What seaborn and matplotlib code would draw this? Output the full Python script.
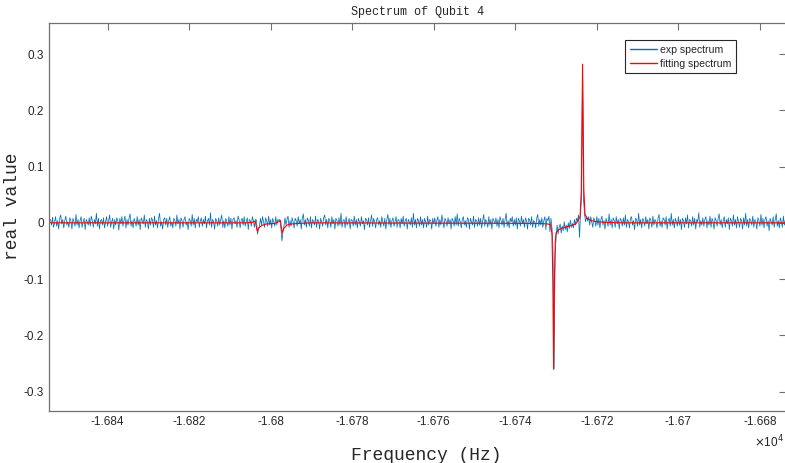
import numpy as np
import pandas as pd
import seaborn as sns
import matplotlib
matplotlib.use("Agg")
import matplotlib.pyplot as plt

# ==========================================
# Data
# ==========================================
# exp spectrum: sampled every 0.25 Hz starting at -16854 Hz
exp_start = -16854.0
exp_step = 0.25
exp_values = [
    0.006, -0.004, 0.010, -0.008, 0.002, 0.011, -0.006, 0.004, -0.011, 0.008, 0.014, -0.002, 0.006, -0.009, 0.004, 0.012, -0.004, 0.002, -0.008, 0.009,
    0.004, -0.011, 0.008, 0.002, -0.006, 0.015, -0.004, 0.006, -0.009, 0.004, 0.011, -0.008, 0.002, 0.008, -0.012, 0.006, 0.002, -0.004, 0.009, -0.006,
    0.012, 0.004, -0.008, 0.006, -0.002, 0.017, -0.006, 0.008, -0.011, 0.004, 0.006, -0.004, 0.009, -0.009, 0.002, 0.011, -0.006, 0.004, 0.014, -0.008,
    0.002, 0.008, -0.011, 0.006, -0.004, 0.009, 0.004, -0.013, 0.008, -0.002, 0.011, -0.006, 0.004, 0.012, -0.009, 0.006, -0.004, 0.008, 0.016, -0.006,
    0.004, -0.009, 0.008, 0.002, -0.006, 0.011, -0.004, 0.006, -0.012, 0.009, 0.004, -0.002, 0.014, -0.008, 0.006, 0.002, -0.011, 0.008, -0.004, 0.009,
    0.006, -0.008, 0.012, -0.004, 0.004, -0.009, 0.008, 0.017, -0.006, 0.002, -0.011, 0.006, 0.009, -0.004, 0.008, -0.008, 0.004, 0.011, -0.006, 0.002,
    -0.009, 0.008, 0.004, -0.006, 0.014, -0.002, 0.006, -0.011, 0.009, 0.004, -0.008, 0.006, 0.011, -0.004, 0.002, -0.012, 0.008, 0.004, -0.006, 0.015,
    -0.004, 0.008, -0.009, 0.006, 0.002, 0.011, -0.008, 0.004, 0.009, -0.006, 0.006, -0.002, 0.012, -0.009, 0.004, 0.008, -0.004, 0.018, -0.008, 0.006,
    0.002, -0.011, 0.008, 0.004, -0.006, 0.009, -0.004, 0.006, 0.014, -0.008, 0.004, -0.009, 0.008, 0.002, -0.006, 0.011, -0.004, 0.008, -0.011, 0.006,
    0.009, -0.002, 0.004, -0.008, 0.012, 0.006, -0.009, 0.004, 0.008, -0.004, 0.011, -0.006, 0.002, 0.009, -0.012, 0.006, 0.004, -0.006, 0.011, 0.004,
    -0.008, 0.006, 0.005, -0.020, -0.012, -0.005, 0.008, -0.004, 0.011, 0.002, -0.008, 0.009, 0.004, -0.006, 0.012, -0.004, 0.006, -0.009, 0.008, 0.002,
    -0.006, 0.011, -0.004, 0.006, 0.004, 0.006, -0.008, -0.032, -0.016, -0.006, 0.009, -0.004, 0.006, 0.012, -0.008, 0.004, -0.006, 0.009, 0.002, -0.009,
    0.008, 0.004, -0.006, 0.011, -0.002, 0.006, -0.011, 0.008, 0.016, -0.004, 0.006, -0.008, 0.009, 0.004, -0.006, 0.011, -0.009, 0.006, 0.002, -0.004,
    0.012, -0.008, 0.006, 0.004, -0.011, 0.008, 0.002, -0.006, 0.009, 0.014, -0.004, 0.006, -0.009, 0.008, 0.004, -0.008, 0.011, -0.002, 0.006, -0.011,
    0.008, 0.004, -0.006, 0.009, -0.004, 0.017, -0.008, 0.004, 0.006, -0.009, 0.011, -0.004, 0.002, 0.008, -0.011, 0.006, 0.004, -0.006, 0.012, -0.004,
    0.006, -0.009, 0.008, 0.002, -0.006, 0.011, -0.002, 0.004, -0.012, 0.008, 0.006, -0.004, 0.009, -0.008, 0.004, 0.014, -0.006, 0.008, 0.002, -0.009,
    0.006, 0.009, -0.004, 0.004, -0.008, 0.011, 0.002, -0.006, 0.008, -0.011, 0.006, 0.015, -0.004, 0.008, -0.008, 0.004, 0.009, -0.006, 0.002, 0.011,
    -0.008, 0.006, 0.004, -0.009, 0.008, -0.002, 0.012, -0.006, 0.004, 0.008, -0.011, 0.006, 0.002, -0.004, 0.009, -0.008, 0.017, -0.004, 0.006, -0.009,
    0.008, 0.004, -0.006, 0.011, -0.004, 0.006, -0.009, 0.008, 0.002, -0.008, 0.012, -0.004, 0.006, 0.004, -0.011, 0.008, -0.002, 0.009, -0.006, 0.004,
    0.011, -0.008, 0.006, -0.004, 0.014, 0.002, -0.009, 0.008, 0.004, -0.006, 0.009, -0.002, 0.006, -0.011, 0.008, 0.004, -0.006, 0.011, -0.004, 0.016,
    -0.006, 0.008, 0.002, -0.009, 0.006, 0.011, -0.004, 0.004, -0.008, 0.009, 0.006, -0.011, 0.008, 0.002, -0.004, 0.012, -0.008, 0.006, 0.004, -0.006,
    0.009, -0.004, 0.008, -0.009, 0.004, 0.015, -0.006, 0.006, 0.002, -0.008, 0.011, -0.004, 0.006, -0.011, 0.008, 0.004, -0.002, 0.009, -0.006, 0.006,
    -0.009, 0.011, 0.004, -0.004, 0.008, -0.008, 0.006, 0.017, -0.006, 0.004, -0.009, 0.008, 0.002, 0.011, -0.006, 0.006, -0.004, 0.009, -0.011, 0.008,
    0.004, -0.006, 0.012, -0.002, 0.006, -0.008, 0.009, 0.004, -0.011, 0.008, 0.006, -0.004, 0.011, -0.008, 0.004, 0.002, -0.009, 0.008, 0.015, -0.006,
    0.006, -0.004, 0.009, -0.008, 0.004, 0.011, -0.012, 0.008, 0.004, 0.012, -0.016, 0.008, -0.010, -0.050, -0.260, -0.060, -0.024, -0.004, -0.020, -0.008,
    -0.002, -0.018, -0.006, -0.014, 0.002, -0.012, -0.004, -0.016, 0.000, -0.010, 0.005, -0.008, -0.001, -0.009, 0.006, -0.004, 0.008, 0.003, 0.014, -0.026,
    0.016, 0.050, 0.272, 0.040, 0.014, 0.002, 0.012, 0.003, 0.011, -0.004, 0.011, 0.002, -0.008, 0.009, 0.004, -0.006, 0.011, -0.004, 0.008, -0.009,
    0.006, 0.012, -0.004, 0.004, -0.011, 0.008, 0.002, -0.006, 0.016, -0.004, 0.006, -0.009, 0.009, 0.004, -0.008, 0.011, -0.002, 0.006, -0.011, 0.008,
    0.004, -0.006, 0.009, -0.004, 0.014, -0.008, 0.006, 0.002, -0.009, 0.008, 0.011, -0.004, 0.004, -0.012, 0.008, 0.006, -0.006, 0.017, -0.004, 0.006,
    -0.009, 0.008, 0.004, -0.006, 0.011, -0.002, 0.006, -0.011, 0.009, 0.004, -0.008, 0.012, -0.004, 0.006, 0.002, -0.009, 0.008, 0.015, -0.006, 0.004,
    -0.008, 0.009, 0.006, -0.004, 0.011, -0.011, 0.004, 0.008, -0.006, 0.017, -0.004, 0.006, -0.009, 0.008, 0.002, -0.006, 0.011, -0.004, 0.006, -0.012,
    0.008, 0.004, -0.008, 0.009, -0.002, 0.014, -0.009, 0.006, 0.004, -0.006, 0.011, -0.004, 0.008, -0.011, 0.006, 0.002, 0.018, -0.008, 0.004, -0.004,
    0.009, -0.006, 0.006, 0.011, -0.009, 0.004, -0.004, 0.012, -0.008, 0.008, 0.002, -0.011, 0.009, 0.004, -0.006, 0.008, 0.016, -0.004, 0.006, -0.009,
    0.004, 0.011, -0.008, 0.006, -0.002, 0.009, -0.012, 0.008, 0.004, -0.006, 0.014, -0.004, 0.006, -0.009, 0.011, 0.002, -0.008, 0.008, 0.004, -0.011,
    0.009, -0.004, 0.017, -0.006, 0.006, -0.009, 0.008, 0.004, -0.004, 0.012, -0.008, 0.006, 0.002, -0.011, 0.009, 0.004, -0.006, 0.015, -0.004, 0.008,
    -0.009, 0.006, 0.011, -0.006, 0.004, -0.014, 0.008, 0.002, -0.004, 0.011, -0.008, 0.006, 0.016, -0.006, 0.004, -0.009, 0.009, 0.002, -0.008, 0.012,
    -0.004, 0.006,
]
exp_freq = exp_start + exp_step * np.arange(len(exp_values))

# fitting spectrum: denser points around the resonances
fit_freq = [
    -16854.0, -16806.0, -16804.5, -16803.8, -16803.3, -16802.8, -16802.0, -16801.0, -16799.0,
    -16798.0, -16797.6, -16797.2, -16796.8, -16796.0, -16795.0, -16793.0, -16790.0,
    -16734.0, -16732.0, -16731.3, -16731.0, -16730.8, -16730.6, -16730.4, -16730.2, -16730.0,
    -16729.5, -16728.8, -16727.5, -16726.3, -16725.2, -16724.6, -16724.1, -16723.8, -16723.5,
    -16723.2, -16722.9, -16722.4, -16721.4, -16720.0, -16718.0, -16714.0, -16673.0,
]
fit_values = [
    0.000, 0.000, 0.001, 0.003, -0.014, -0.008, -0.004, -0.002, -0.001,
    0.002, 0.004, -0.018, -0.010, -0.004, -0.002, -0.001, 0.000,
    -0.001, -0.002, -0.004, -0.020, -0.100, -0.260, -0.100, -0.035, -0.018,
    -0.013, -0.010, -0.007, -0.005, -0.002, 0.004, 0.012, 0.060, 0.282,
    0.060, 0.015, 0.008, 0.004, 0.002, 0.001, 0.000, 0.000,
]

x_ticks = [-16840, -16820, -16800, -16780, -16760, -16740, -16720, -16700, -16680]
x_tick_labels = ["-1.684", "-1.682", "-1.68", "-1.678", "-1.676", "-1.674", "-1.672", "-1.67", "-1.668"]
y_ticks = [-0.3, -0.2, -0.1, 0, 0.1, 0.2, 0.3]
y_tick_labels = ["-0.3", "-0.2", "-0.1", "0", "0.1", "0.2", "0.3"]

exp_df = pd.DataFrame({"freq": exp_freq, "value": exp_values})
fit_df = pd.DataFrame({"freq": fit_freq, "value": fit_values})

# ==========================================
# Plot
# ==========================================
sns.set_style("white")
plt.rcParams["font.family"] = ["Liberation Sans", "DejaVu Sans"]
mono = ["Liberation Mono", "DejaVu Sans Mono"]
axis_col = "#707070"

fig = plt.figure(figsize=(7.85, 4.63), dpi=100)
ax = fig.add_axes([0.0628, 0.113, 0.9385, 0.8373])

sns.lineplot(data=exp_df, x="freq", y="value", ax=ax, color="#0072BD",
             linewidth=0.55, label="exp spectrum")
sns.lineplot(data=fit_df, x="freq", y="value", ax=ax, color="#FF0000",
             linewidth=0.8, label="fitting spectrum")

ax.set_xlim(-16854.3, -16673.6)
ax.set_ylim(-0.3338, 0.3551)
ax.set_xticks(x_ticks)
ax.set_xticklabels(x_tick_labels)
ax.set_yticks(y_ticks)
ax.set_yticklabels(y_tick_labels)

ax.tick_params(direction="in", top=True, right=True, length=5, width=0.8,
               color=axis_col, labelsize=8.5, labelcolor="#262626", pad=4)
for s in ax.spines.values():
    s.set_visible(True)
    s.set_color(axis_col)
    s.set_linewidth(0.9)

ax.set_title("Spectrum of Qubit 4", family=mono, fontsize=8.5, pad=6)
ax.set_xlabel("Frequency (Hz)", family=mono, fontsize=13)
ax.set_ylabel("real value", family=mono, fontsize=13)
ax.xaxis.set_label_coords(0.511, -0.093)
ax.yaxis.set_label_coords(-0.039, 0.527)

fig.text(0.9987, 0.0454, r"$\times$10$^{4}$", fontsize=8.5, color="#262626",
         ha="right", va="center")

leg = ax.legend(loc="upper right", bbox_to_anchor=(0.932, 0.956), borderaxespad=0,
                fontsize=7.6, frameon=True, fancybox=False, framealpha=1,
                handlelength=2.5, labelspacing=0.35, borderpad=0.45, handletextpad=0.3)
leg.get_frame().set_edgecolor("#262626")
leg.get_frame().set_linewidth(0.8)
for line in leg.get_lines():
    line.set_linewidth(1.0)

plt.savefig("out.png", dpi=100)
